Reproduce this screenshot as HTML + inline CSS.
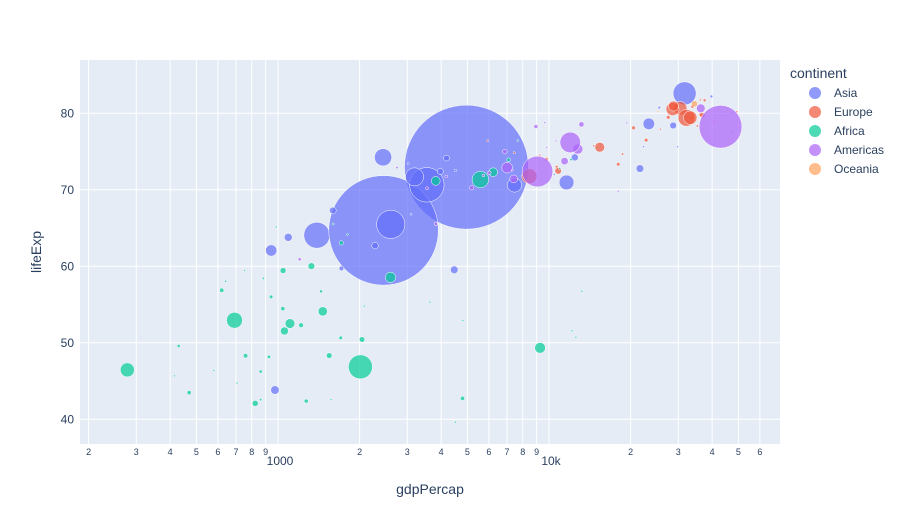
<!DOCTYPE html>
<html><head><meta charset="utf-8">
<style>
body{margin:0;background:#fff;font-family:"Liberation Sans",Arial,sans-serif;}
svg text{font-family:"Liberation Sans",Arial,sans-serif;fill:#2a3f5f;}
</style></head>
<body>
<svg id="chart" width="903" height="525" xmlns="http://www.w3.org/2000/svg">
<rect x="80" y="60" width="700" height="384" fill="#e5ecf6"/>
<g id="grid"></g>
<g id="marks"></g>
<g id="axes"></g>
<text x="430" y="494" text-anchor="middle" font-size="14">gdpPercap</text>
<text transform="translate(41,252) rotate(-90)" text-anchor="middle" font-size="14">lifeExp</text>
<g id="legend">
<text x="790" y="78" font-size="14">continent</text>
</g>
</svg>
<script>
const continents=["Asia","Europe","Africa","Americas","Oceania"];
const colors=["#636efa","#EF553B","#00cc96","#ab63fa","#FFA15A"];
const yTicks=[40,50,60,70,80];
// [lifeExp, pop(millions), gdpPercap]
const asia=[[43.828,31.9,974.6],[75.635,0.708,29796],[64.062,150.4,1391],[59.723,14.1,1714],[72.961,1318.7,4959],[82.208,6.98,39725],[64.698,1110.4,2452],[70.65,223.5,3541],[70.964,69.45,11606],[59.545,27.5,4471],[80.745,6.43,25523],[82.603,127.5,31656],[72.535,6.05,4519],[67.297,23.3,1593],[78.623,49.0,23348],[77.588,2.51,47307],[71.993,3.92,10461],[74.241,24.8,12452],[66.803,2.87,3096],[62.069,47.8,944],[63.785,28.9,1091],[75.64,3.2,22316],[65.483,169.3,2606],[71.688,91.1,3190],[72.777,27.6,21655],[79.972,4.55,47143],[72.396,20.4,3970],[74.143,19.3,4185],[78.4,23.2,28718],[70.616,65.1,7458],[74.249,85.3,2442],[73.422,4.02,3025],[62.698,22.2,2281]];
const europe=[[76.423,3.6,5937],[79.829,8.2,36126],[79.441,10.4,33693],[74.852,4.55,7446],[73.005,7.32,10681],[75.748,4.49,14619],[76.486,10.2,22833],[78.332,5.47,35278],[79.313,5.24,33207],[80.657,61.1,30470],[79.406,82.4,32170],[79.483,10.7,27538],[73.338,9.96,18009],[81.757,0.301,36181],[78.885,4.11,40676],[80.546,58.1,28570],[74.543,0.685,9254],[79.762,16.6,36798],[80.196,4.63,49357],[75.563,38.5,15390],[78.098,10.6,20510],[72.476,22.3,10808],[74.002,10.2,9787],[74.663,5.45,18678],[77.926,2.01,25768],[80.941,40.4,28821],[80.884,9.03,33860],[81.701,7.55,37506],[71.777,71.2,8458],[79.425,60.8,33203]];
const africa=[[72.301,33.3,6223],[42.731,12.4,4797],[56.728,8.08,1441],[50.728,1.64,12570],[52.295,14.3,1217],[49.58,8.39,430],[50.43,17.7,2042],[44.741,4.37,706],[50.651,10.2,1704],[65.152,0.71,986],[46.462,64.6,278],[55.322,3.8,3633],[48.328,18.0,1545],[54.791,0.496,2082],[71.338,80.3,5581],[51.579,0.551,12154],[58.04,4.91,641],[52.947,76.5,691],[56.735,1.45,13206],[59.448,1.69,753],[60.022,22.9,1328],[56.007,9.95,943],[46.388,1.47,579],[54.11,35.6,1463],[42.592,2.01,1569],[45.678,3.19,415],[73.952,6.04,12057],[59.443,19.2,1044],[48.303,13.3,759],[54.467,12.0,1042],[64.164,3.27,1803],[72.801,1.25,10957],[71.164,33.8,3820],[42.082,20.0,824],[52.906,2.06,4811],[56.867,12.9,620],[46.859,135.0,2014],[76.442,0.798,7670],[46.242,8.86,863],[65.528,0.2,1598],[63.062,12.3,1712],[42.568,6.14,863],[48.159,9.12,926],[49.339,44.0,9270],[58.556,42.3,2602],[39.613,1.13,4513],[52.517,38.1,1107],[58.42,5.7,883],[73.923,10.3,7093],[51.542,29.2,1056],[42.384,11.7,1271],[43.487,12.3,470]];
const americas=[[75.32,40.3,12779],[65.554,9.12,3822],[72.39,190.0,9066],[80.653,33.4,36319],[78.553,16.3,13172],[72.889,44.2,7007],[78.782,4.13,9645],[78.273,11.4,8948],[72.235,9.32,6025],[74.994,13.8,6873],[71.878,6.94,5728],[70.259,12.6,5186],[60.916,8.5,1202],[70.198,7.48,3548],[72.567,2.78,7321],[76.195,108.7,11978],[72.899,5.68,2749],[75.537,3.24,9809],[71.752,6.67,4173],[71.421,28.7,7409],[78.746,3.94,19329],[69.819,1.06,18009],[78.242,301.1,42952],[76.384,3.45,10611],[73.747,26.1,11416]];
const oceania=[[81.235,20.4,34435],[80.204,4.12,25185]];
const series=[asia,europe,africa,americas,oceania];

const NS="http://www.w3.org/2000/svg";
function X(v){return 278+(Math.log10(v)-3)*271;}
function Y(v){return 113.3+(80-v)*7.65;}
function R(p){return 62*Math.pow(p/1318.7,0.72);}
function mk(t,a,parent){const e=document.createElementNS(NS,t);for(const k in a)e.setAttribute(k,a[k]);parent.appendChild(e);return e;}
const grid=document.getElementById('grid'),axes=document.getElementById('axes'),marks=document.getElementById('marks'),legend=document.getElementById('legend');
yTicks.forEach(v=>{
  const l=mk('line',{x1:80,x2:780,y1:Y(v),y2:Y(v),stroke:'#fff','stroke-width':1},grid);
  
  
  const t=mk('text',{x:74,y:Y(v)+4,'text-anchor':'end','font-size':12},axes);
  t.textContent=v;
  
  
});
for(let d=100;d<=10000;d*=10){
  for(let m=1;m<=9;m++){
    const v=d*m; if(v<186||v>65000) continue;
    const x=X(v);
    const l=mk('line',{x1:x,x2:x,y1:60,y2:444,stroke:'#fff','stroke-width':1},grid);
    
    
    const t=mk('text',{x:x,y:m===1?465:455,'text-anchor':'middle','font-size':m===1?12:9},axes);
    t.textContent=m===1?(v===1000?'1000':'10k'):String(m);
    if(m===1) t.setAttribute('x',x+2);
    
    
  }
}
series.forEach((s,i)=>{
  s.forEach(d=>{
    const c=mk('circle',{cx:X(d[2]),cy:Y(d[0]),r:Math.max(R(d[1]),1),fill:colors[i],'fill-opacity':0.7,stroke:'#fff','stroke-width':0.5},marks);
    
    
  });
  const y=93+i*19;
  const lc=mk('circle',{cx:815,cy:y,r:6,fill:colors[i],'fill-opacity':0.7},legend);
  
  
  const lt=mk('text',{x:834,y:y+4,'font-size':12},legend);
  lt.textContent=continents[i];
  
  
});
</script>
</body></html>
